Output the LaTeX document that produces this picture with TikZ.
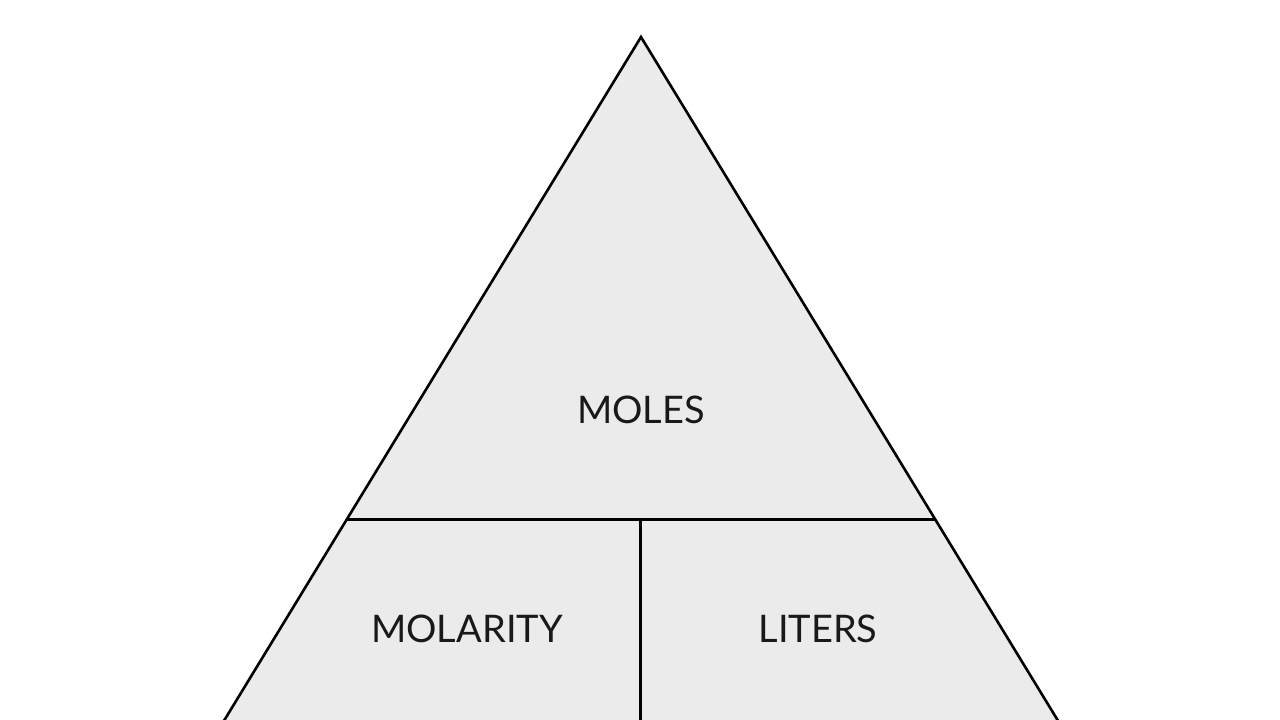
\documentclass[tikz,border=0pt]{standalone}
\usepackage{fontspec}
\setmainfont{Lato}
\begin{document}
\begin{tikzpicture}[x=1pt,y=-1pt,
  edge/.style={line width=2.6pt,line join=miter},
  label/.style={font=\fontsize{38}{38}\selectfont,text=black!90}]
\useasboundingbox (0,0) rectangle (1280,720);
\begin{scope}
\clip (0,0) rectangle (1280,720);
\coordinate (apex) at (641,37);
\coordinate (bl) at (222,724);
\coordinate (br) at (1060,724);
\coordinate (ml) at (347,519.5);
\coordinate (mr) at (935,519.5);
\coordinate (mid) at (640.5,519.5);
\coordinate (bot) at (640.5,724);
\fill[fill={rgb,255:red,235;green,235;blue,235}] (apex) -- (br) -- (bl) -- cycle;
\draw[edge] (bl) -- (apex) -- (br);
\draw[edge] (ml) -- (mr);
\draw[edge] (mid) -- (bot);
\end{scope}
\node[label] (moles) at (641,410) {MOLES};
\node[label] (molarity) at (467,629) {MOLARITY};
\node[label] (liters) at (818,629) {LITERS};
\end{tikzpicture}
\end{document}
